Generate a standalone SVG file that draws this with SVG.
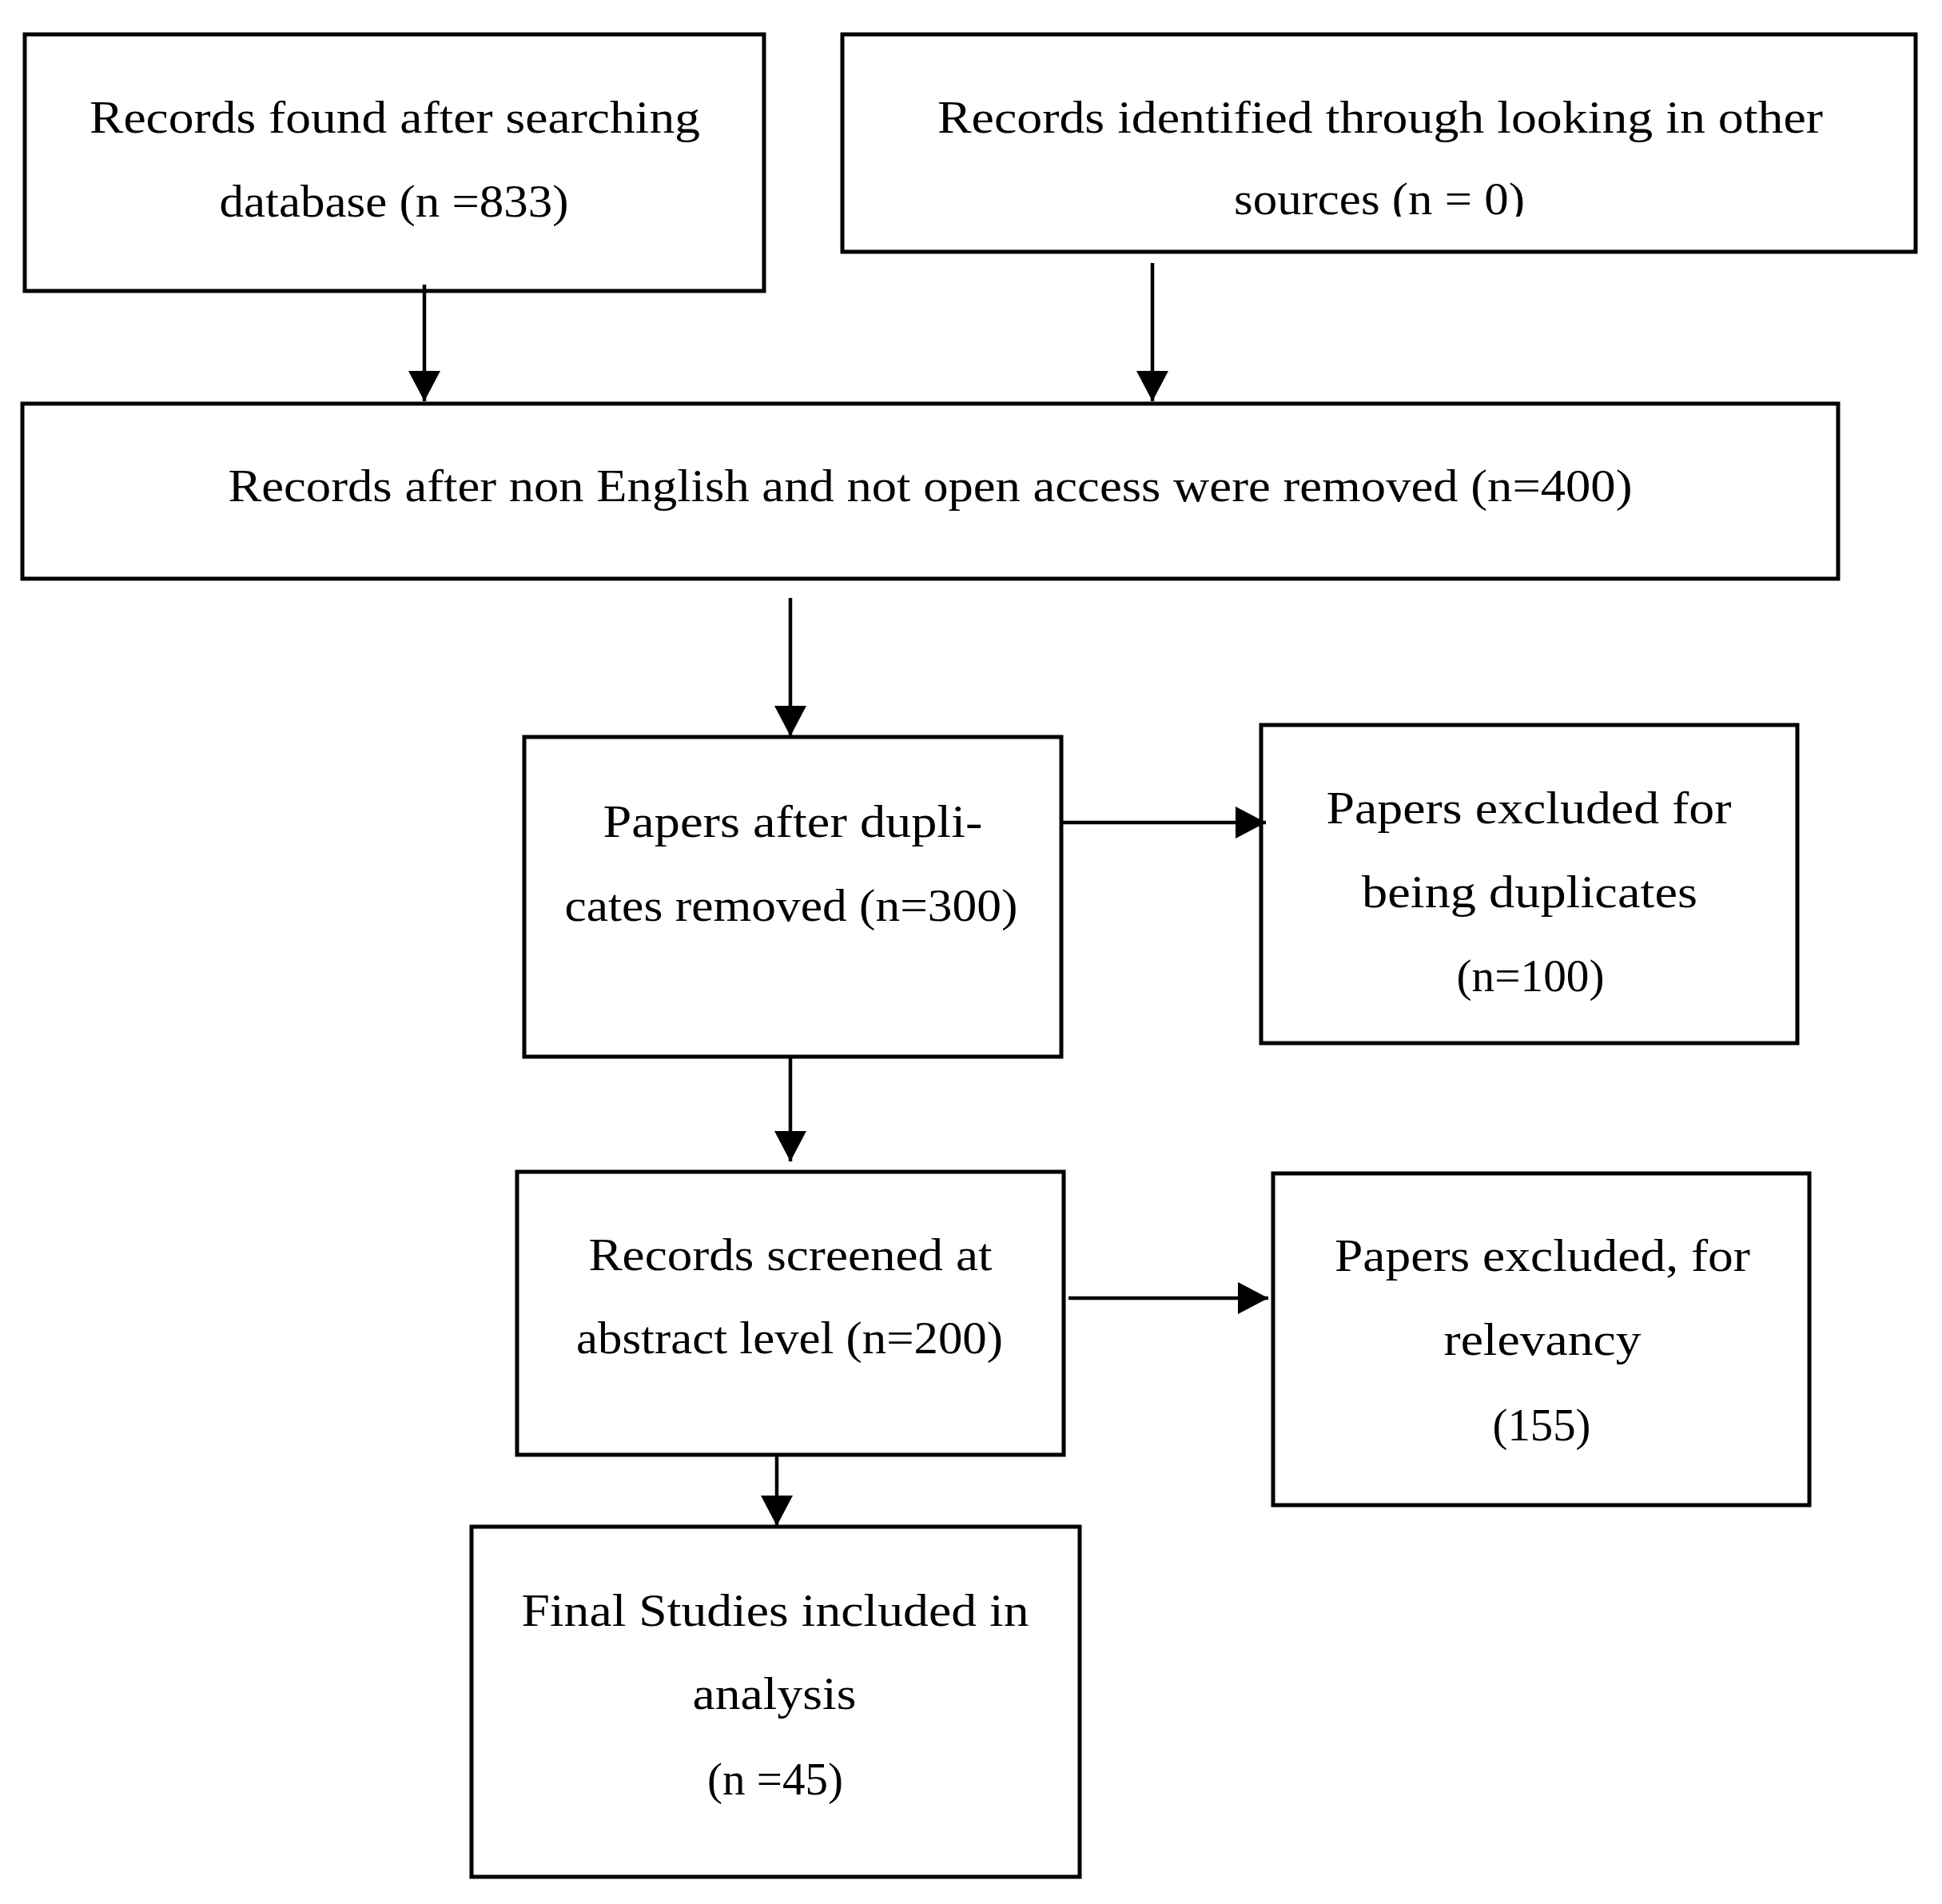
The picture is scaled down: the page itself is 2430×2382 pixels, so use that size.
<svg xmlns="http://www.w3.org/2000/svg" width="2430" height="2382" viewBox="0 0 2430 2382">
<style>
.box{fill:#fff;stroke:#000;stroke-width:5}
.t{font-family:"Liberation Serif","DejaVu Serif",serif;font-size:56px;fill:#000;text-anchor:middle}
.c{fill:none;stroke:#000;stroke-width:4.5}
</style>
<defs>
<marker id="ah" viewBox="0 0 38 40" refX="38" refY="20" markerWidth="38" markerHeight="40" markerUnits="userSpaceOnUse" orient="auto">
<path d="M0,0 L38,20 L0,40 z" fill="#000"/>
</marker>
<clipPath id="clip2"><rect x="1054" y="43" width="1343" height="228"/></clipPath>
</defs>
<rect width="2430" height="2382" fill="#fff"/>
<g id="n1">
<rect class="box" x="31" y="43" width="925" height="321"/>
<text class="t" x="494" y="166" textLength="764" lengthAdjust="spacingAndGlyphs">Records found after searching</text>
<text class="t" x="493" y="271" textLength="437" lengthAdjust="spacingAndGlyphs">database (n =833)</text>
</g>
<g id="n2">
<rect class="box" x="1054" y="43" width="1343" height="272"/>
<text class="t" x="1727" y="166" textLength="1108" lengthAdjust="spacingAndGlyphs">Records identified through looking in other</text>
<text class="t" x="1726" y="268" textLength="364" lengthAdjust="spacingAndGlyphs" clip-path="url(#clip2)">sources (n = 0)</text>
</g>
<g id="n3">
<rect class="box" x="28" y="505" width="2272" height="219"/>
<text class="t" x="1164" y="627" textLength="1757" lengthAdjust="spacingAndGlyphs">Records after non English and not open access were removed (n=400)</text>
</g>
<g id="n4">
<rect class="box" x="656" y="922" width="672" height="400"/>
<text class="t" x="992" y="1047" textLength="475" lengthAdjust="spacingAndGlyphs">Papers after dupli-</text>
<text class="t" x="990" y="1152" textLength="567" lengthAdjust="spacingAndGlyphs">cates removed (n=300)</text>
</g>
<g id="n5">
<rect class="box" x="1578" y="907" width="671" height="398"/>
<text class="t" x="1913" y="1030" textLength="507" lengthAdjust="spacingAndGlyphs">Papers excluded for</text>
<text class="t" x="1914" y="1135" textLength="420" lengthAdjust="spacingAndGlyphs">being duplicates</text>
<text class="t" x="1915" y="1240" textLength="185" lengthAdjust="spacingAndGlyphs">(n=100)</text>
</g>
<g id="n6">
<rect class="box" x="647" y="1466" width="684" height="354"/>
<text class="t" x="989" y="1589" textLength="505" lengthAdjust="spacingAndGlyphs">Records screened at</text>
<text class="t" x="988" y="1693" textLength="534" lengthAdjust="spacingAndGlyphs">abstract level (n=200)</text>
</g>
<g id="n7">
<rect class="box" x="1593" y="1468" width="671" height="415"/>
<text class="t" x="1930" y="1590" textLength="520" lengthAdjust="spacingAndGlyphs">Papers excluded, for</text>
<text class="t" x="1930" y="1695" textLength="247" lengthAdjust="spacingAndGlyphs">relevancy</text>
<text class="t" x="1929" y="1802" textLength="123" lengthAdjust="spacingAndGlyphs">(155)</text>
</g>
<g id="n8">
<rect class="box" x="590" y="1910" width="761" height="438"/>
<text class="t" x="970" y="2034" textLength="635" lengthAdjust="spacingAndGlyphs">Final Studies included in</text>
<text class="t" x="969" y="2138" textLength="205" lengthAdjust="spacingAndGlyphs">analysis</text>
<text class="t" x="970" y="2245" textLength="170" lengthAdjust="spacingAndGlyphs">(n =45)</text>
</g>
<g id="connectors">
<path class="c" d="M531,356 L531,502" marker-end="url(#ah)"/>
<path class="c" d="M1442,329 L1442,502" marker-end="url(#ah)"/>
<path class="c" d="M989,748 L989,921" marker-end="url(#ah)"/>
<path class="c" d="M1330,1029 L1584,1029" marker-end="url(#ah)"/>
<path class="c" d="M989,1324 L989,1453" marker-end="url(#ah)"/>
<path class="c" d="M972,1822 L972,1909" marker-end="url(#ah)"/>
<path class="c" d="M1337,1624 L1587,1624" marker-end="url(#ah)"/>
</g>
</svg>
